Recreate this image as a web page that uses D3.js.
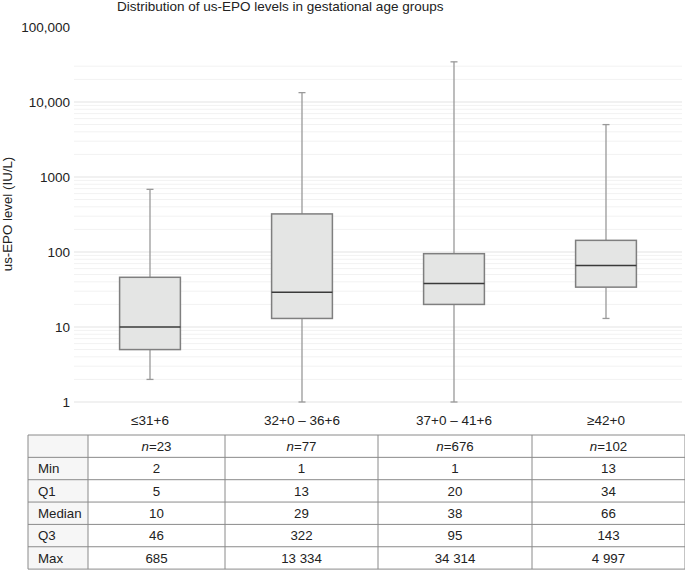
<!DOCTYPE html>
<html>
<head>
<meta charset="utf-8">
<script src="https://cdn.jsdelivr.net/npm/d3@7"></script>
<style>
  body { margin: 0; background: #fff; }
  svg { font-family: "Liberation Sans", Arial, Helvetica, sans-serif; }
</style>
</head>
<body>
<svg id="chart" width="685" height="570"></svg>
<script>
const groups = ["≤31+6", "32+0 – 36+6", "37+0 – 41+6", "≥42+0"];
const nCounts = [23, 77, 676, 102];
const mins = [2, 1, 1, 13];
const q1s = [5, 13, 20, 34];
const medians = [10, 29, 38, 66];
const q3s = [46, 322, 95, 143];
const maxs = [685, 13334, 34314, 4997];

const yTicks = [1, 10, 100, 1000, 10000, 100000];
const yTickLabels = ["1", "10", "100", "1000", "10,000", "100,000"];
const rowLabels = ["Min", "Q1", "Median", "Q3", "Max"];

const svg = d3.select("#chart");

const plot = { left: 74, right: 682, top: 27, bottom: 402 };

const y = d3.scaleLog()
    .domain([1, 100000])
    .range([plot.bottom, plot.top]);

const x = d3.scaleBand()
    .domain(groups)
    .range([plot.left, plot.right]);

const boxW = x.bandwidth() * 0.4;
const capW = 7;

// title
svg.append("text")
    .attr("x", 117)
    .attr("y", 11)
    .attr("font-size", 13.5)
    .attr("fill", "#222")
    .text("Distribution of us-EPO levels in gestational age groups");

// grid: minor lines at 2..9 per decade, up to 30,000
const minor = [];
for (let k = 0; k <= 4; k++) {
  for (let m = 2; m <= 9; m++) {
    const v = m * Math.pow(10, k);
    if (v <= 30000) minor.push(v);
  }
}

svg.append("g").selectAll("line")
    .data(minor)
    .join("line")
    .attr("x1", plot.left).attr("x2", plot.right)
    .attr("y1", d => y(d)).attr("y2", d => y(d))
    .attr("stroke", "#f2f2f2")
    .attr("stroke-width", 1);

svg.append("g").selectAll("line")
    .data(yTicks.filter(d => d < 100000))
    .join("line")
    .attr("x1", plot.left).attr("x2", plot.right)
    .attr("y1", d => y(d)).attr("y2", d => y(d))
    .attr("stroke", "#e4e4e4")
    .attr("stroke-width", 1.2);

// y axis labels
const yAxis = d3.axisLeft(y)
    .tickValues(yTicks)
    .tickFormat((d, i) => yTickLabels[i])
    .tickSize(0)
    .tickPadding(0);

const gY = svg.append("g")
    .attr("transform", "translate(70,0)")
    .call(yAxis);
gY.select(".domain").remove();
gY.selectAll("text")
    .attr("font-size", 13.5)
    .attr("font-family", "Liberation Sans, Arial, sans-serif")
    .attr("fill", "#222");

svg.append("text")
    .attr("transform", "translate(12,214) rotate(-90)")
    .attr("text-anchor", "middle")
    .attr("font-size", 13.3)
    .attr("fill", "#222")
    .text("us-EPO level (IU/L)");

// boxes
const boxes = svg.append("g");
groups.forEach((g, i) => {
  const cx = x(g) + x.bandwidth() / 2;
  const grp = boxes.append("g");

  // whiskers
  grp.append("line")
      .attr("x1", cx).attr("x2", cx)
      .attr("y1", y(maxs[i])).attr("y2", y(q3s[i]))
      .attr("stroke", "#999").attr("stroke-width", 1.3);
  grp.append("line")
      .attr("x1", cx).attr("x2", cx)
      .attr("y1", y(q1s[i])).attr("y2", y(mins[i]))
      .attr("stroke", "#999").attr("stroke-width", 1.3);
  [maxs[i], mins[i]].forEach(v => {
    grp.append("line")
        .attr("x1", cx - capW / 2).attr("x2", cx + capW / 2)
        .attr("y1", y(v)).attr("y2", y(v))
        .attr("stroke", "#999").attr("stroke-width", 1.3);
  });

  grp.append("rect")
      .attr("x", cx - boxW / 2)
      .attr("y", y(q3s[i]))
      .attr("width", boxW)
      .attr("height", y(q1s[i]) - y(q3s[i]))
      .attr("fill", "#e4e5e4")
      .attr("stroke", "#7f7f7f")
      .attr("stroke-width", 1.5);

  grp.append("line")
      .attr("x1", cx - boxW / 2).attr("x2", cx + boxW / 2)
      .attr("y1", y(medians[i])).attr("y2", y(medians[i]))
      .attr("stroke", "#3a3a3a").attr("stroke-width", 1.5);
});

// group labels
svg.append("g").selectAll("text")
    .data(groups)
    .join("text")
    .attr("x", d => x(d) + x.bandwidth() / 2)
    .attr("y", 425)
    .attr("text-anchor", "middle")
    .attr("font-size", 13.5)
    .attr("fill", "#222")
    .text(d => d);

// table
const colEdges = [28, 88, 225, 378, 532, 685];
const rowTop = 435, rowH = 22.35;
const fmt = d3.formatLocale({ decimal: ".", thousands: " ", grouping: [3], currency: ["", ""] }).format(",d");
const tableRows = [mins, q1s, medians, q3s, maxs];

const table = svg.append("g");

// label column background
table.append("rect")
    .attr("x", colEdges[0]).attr("y", rowTop)
    .attr("width", colEdges[1] - colEdges[0])
    .attr("height", rowH * 6)
    .attr("fill", "#f6f6f6");

// grid lines of the table
for (let r = 0; r <= 6; r++) {
  table.append("line")
      .attr("x1", colEdges[0]).attr("x2", colEdges[5])
      .attr("y1", rowTop + r * rowH).attr("y2", rowTop + r * rowH)
      .attr("stroke", "#8a8a8a").attr("stroke-width", 1);
}
colEdges.forEach(cx => {
  table.append("line")
      .attr("x1", cx).attr("x2", cx)
      .attr("y1", rowTop).attr("y2", rowTop + rowH * 6)
      .attr("stroke", "#8a8a8a").attr("stroke-width", 1);
});

// n row
nCounts.forEach((n, i) => {
  const t = table.append("text")
      .attr("x", (colEdges[i + 1] + colEdges[i + 2]) / 2)
      .attr("y", rowTop + rowH / 2)
      .attr("dy", "0.35em")
      .attr("text-anchor", "middle")
      .attr("font-size", 13.3)
      .attr("fill", "#222");
  t.append("tspan").attr("font-style", "italic").text("n");
  t.append("tspan").text("=" + n);
});

tableRows.forEach((vals, r) => {
  const yy = rowTop + (r + 1) * rowH + rowH / 2;
  table.append("text")
      .attr("x", 38).attr("y", yy).attr("dy", "0.35em")
      .attr("font-size", 13.3).attr("fill", "#222")
      .text(rowLabels[r]);
  vals.forEach((v, i) => {
    table.append("text")
        .attr("x", (colEdges[i + 1] + colEdges[i + 2]) / 2)
        .attr("y", yy).attr("dy", "0.35em")
        .attr("text-anchor", "middle")
        .attr("font-size", 13.3).attr("fill", "#222")
        .text(fmt(v));
  });
});
</script>
</body>
</html>
